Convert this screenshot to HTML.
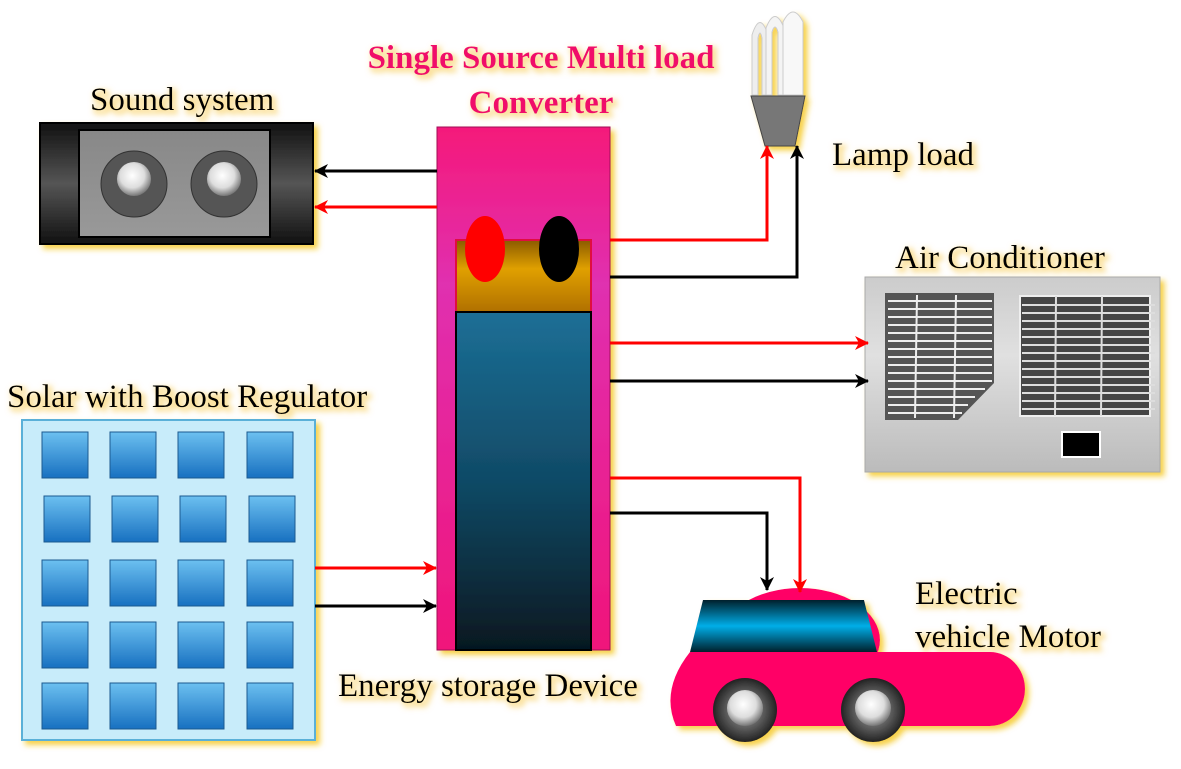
<!DOCTYPE html>
<html><head><meta charset="utf-8"><style>
html,body{margin:0;padding:0;background:#fff}
svg{display:block}
text{font-family:"Liberation Serif",serif;}
</style></head><body>
<svg width="1181" height="769" viewBox="0 0 1181 769" xmlns="http://www.w3.org/2000/svg">
<defs>
<filter id="g" x="-20%" y="-20%" width="140%" height="140%">
<feGaussianBlur in="SourceAlpha" stdDeviation="3" result="b"/><feOffset in="b" dx="4" dy="4" result="o"/>
<feFlood flood-color="#f5c518" flood-opacity="0.8" result="f"/><feComposite in="f" in2="o" operator="in" result="s"/>
<feMerge><feMergeNode in="s"/><feMergeNode in="SourceGraphic"/></feMerge></filter>
<filter id="tg" x="-10%" y="-40%" width="120%" height="180%">
<feMorphology in="SourceAlpha" operator="dilate" radius="1.5" result="d"/><feGaussianBlur in="d" stdDeviation="3" result="b"/><feOffset in="b" dx="3" dy="3" result="o"/>
<feFlood flood-color="#f7c84a" flood-opacity="0.55" result="f"/><feComposite in="f" in2="o" operator="in" result="s"/>
<feMerge><feMergeNode in="s"/><feMergeNode in="SourceGraphic"/></feMerge></filter>
<linearGradient id="pink" x1="0" y1="0" x2="0" y2="1"><stop offset="0" stop-color="#f5197a"/><stop offset="0.3" stop-color="#e030b0"/><stop offset="1" stop-color="#f0157a"/></linearGradient>
<linearGradient id="gold" x1="0" y1="0" x2="0" y2="1"><stop offset="0" stop-color="#8a5a00"/><stop offset="0.4" stop-color="#e0a000"/><stop offset="1" stop-color="#b07000"/></linearGradient>
<linearGradient id="bat" x1="0" y1="0" x2="0" y2="1"><stop offset="0" stop-color="#1c6f96"/><stop offset="0.5" stop-color="#104a66"/><stop offset="1" stop-color="#061820"/></linearGradient>
<linearGradient id="cell" x1="0" y1="0" x2="0" y2="1"><stop offset="0" stop-color="#6cc0f0"/><stop offset="1" stop-color="#1870c0"/></linearGradient>
<linearGradient id="win" x1="0" y1="0" x2="0" y2="1"><stop offset="0" stop-color="#04202c"/><stop offset="0.5" stop-color="#00aee8"/><stop offset="1" stop-color="#04202c"/></linearGradient>
<linearGradient id="ss" x1="0" y1="0" x2="0" y2="1"><stop offset="0" stop-color="#111"/><stop offset="0.5" stop-color="#555"/><stop offset="1" stop-color="#111"/></linearGradient>
<linearGradient id="sp" x1="0" y1="0" x2="0" y2="1"><stop offset="0" stop-color="#888"/><stop offset="1" stop-color="#999"/></linearGradient>
<radialGradient id="ball" cx="0.45" cy="0.4" r="0.6"><stop offset="0" stop-color="#fff"/><stop offset="0.6" stop-color="#ddd"/><stop offset="1" stop-color="#777"/></radialGradient>
<radialGradient id="tire" cx="0.5" cy="0.5" r="0.5"><stop offset="0.5" stop-color="#666"/><stop offset="1" stop-color="#222"/></radialGradient>
<linearGradient id="ac" x1="0" y1="0" x2="0" y2="1"><stop offset="0" stop-color="#ccc"/><stop offset="0.4" stop-color="#e0e0e0"/><stop offset="1" stop-color="#bbb"/></linearGradient>
<marker id="ar" markerWidth="14" markerHeight="14" refX="13" refY="7" orient="auto" markerUnits="userSpaceOnUse"><path d="M0,0 L14,7 L0,14 L4,7Z" fill="red"/></marker>
<marker id="ab" markerWidth="14" markerHeight="14" refX="13" refY="7" orient="auto" markerUnits="userSpaceOnUse"><path d="M0,0 L14,7 L0,14 L4,7Z" fill="#000"/></marker>
</defs>

<g filter="url(#tg)" font-weight="bold" fill="#f0106a" font-size="33" text-anchor="middle">
<text x="541" y="68">Single Source Multi load</text>
<text x="541" y="113">Converter</text>
</g>
<g filter="url(#tg)" font-size="33" fill="#000">
<text x="90" y="110">Sound system</text>
<text x="832" y="165">Lamp load</text>
<text x="895" y="268">Air Conditioner</text>
<text x="7" y="407">Solar with Boost Regulator</text>
<text x="338" y="696">Energy storage Device</text>
<text x="915" y="604">Electric</text>
<text x="915" y="647">vehicle Motor</text>
</g>

<g filter="url(#g)">
<rect x="40" y="123" width="273" height="121" fill="url(#ss)" stroke="#000" stroke-width="2"/>
<rect x="79" y="130" width="191" height="107" fill="url(#sp)" stroke="#000" stroke-width="2"/>
<ellipse cx="134" cy="184" rx="33" ry="33" fill="#555" stroke="#333"/>
<circle cx="134" cy="179" r="17" fill="url(#ball)"/>
<ellipse cx="224" cy="184" rx="33" ry="33" fill="#555" stroke="#333"/>
<circle cx="224" cy="179" r="17" fill="url(#ball)"/>
</g>

<g filter="url(#g)">
<rect x="437" y="127" width="173" height="523" fill="url(#pink)" stroke="#a0105a" stroke-width="1"/>
<rect x="456" y="240" width="135" height="72" fill="url(#gold)" stroke="#e01040" stroke-width="2"/>
<ellipse cx="485" cy="249" rx="20" ry="33" fill="red"/>
<ellipse cx="559" cy="249" rx="20" ry="33" fill="#000"/>
<rect x="456" y="312" width="135" height="338" fill="url(#bat)" stroke="#000" stroke-width="2"/>
</g>

<g filter="url(#g)">
<path d="M752,95 V35 Q760,10 768,35 V95 H762 V38 Q760,28 758,38 V95Z" fill="#eee" stroke="#ccc"/>
<path d="M766,95 V28 Q775,5 784,28 V95 H778 V32 Q775,22 772,32 V95Z" fill="#f4f4f4" stroke="#ccc"/>
<path d="M783,95 V22 Q793,2 803,22 V95Z" fill="#f8f8f8" stroke="#ccc"/>
<path d="M751,96 H805 L795,146 H765Z" fill="#777" stroke="#444"/>
</g>

<g filter="url(#g)">
<rect x="865" y="277" width="295" height="195" fill="url(#ac)" stroke="#aaa"/>
<path d="M885,293 H994 V383 L958,420 H885Z" fill="#555"/>
<g stroke="#eee" stroke-width="2">
<line x1="888" y1="301" x2="992" y2="301"/><line x1="888" y1="309" x2="992" y2="309"/><line x1="888" y1="317" x2="992" y2="317"/><line x1="888" y1="325" x2="992" y2="325"/><line x1="888" y1="333" x2="992" y2="333"/><line x1="888" y1="341" x2="992" y2="341"/><line x1="888" y1="349" x2="992" y2="349"/><line x1="888" y1="357" x2="992" y2="357"/><line x1="888" y1="365" x2="992" y2="365"/><line x1="888" y1="373" x2="992" y2="373"/><line x1="888" y1="381" x2="992" y2="381"/><line x1="888" y1="389" x2="985" y2="389"/><line x1="888" y1="397" x2="975" y2="397"/><line x1="888" y1="405" x2="968" y2="405"/><line x1="888" y1="413" x2="962" y2="413"/>
<line x1="917" y1="295" x2="915" y2="418"/><line x1="956" y1="295" x2="954" y2="418"/>
</g>
<rect x="1020" y="296" width="130" height="120" fill="#444" stroke="#eee" stroke-width="2"/>
<g stroke="#ddd" stroke-width="2">
<line x1="1022" y1="305" x2="1155" y2="305"/><line x1="1022" y1="313" x2="1155" y2="313"/><line x1="1022" y1="321" x2="1155" y2="321"/><line x1="1022" y1="329" x2="1155" y2="329"/><line x1="1022" y1="337" x2="1155" y2="337"/><line x1="1022" y1="345" x2="1155" y2="345"/><line x1="1022" y1="353" x2="1155" y2="353"/><line x1="1022" y1="361" x2="1155" y2="361"/><line x1="1022" y1="369" x2="1155" y2="369"/><line x1="1022" y1="377" x2="1155" y2="377"/><line x1="1022" y1="385" x2="1155" y2="385"/><line x1="1022" y1="393" x2="1155" y2="393"/><line x1="1022" y1="401" x2="1155" y2="401"/><line x1="1022" y1="409" x2="1155" y2="409"/>
<line x1="1056" y1="296" x2="1055" y2="416"/><line x1="1102" y1="296" x2="1101" y2="416"/>
</g>
<rect x="1062" y="432" width="38" height="25" fill="#000" stroke="#fff" stroke-width="2"/>
</g>

<g filter="url(#g)">
<rect x="22" y="420" width="293" height="320" fill="#c8ecfa" stroke="#5ab0d8" stroke-width="2"/>
<g fill="url(#cell)" stroke="#1a5a90">
<rect x="42" y="432" width="46" height="46"/><rect x="110" y="432" width="46" height="46"/><rect x="178" y="432" width="46" height="46"/><rect x="247" y="432" width="46" height="46"/>
<rect x="44" y="496" width="46" height="46"/><rect x="112" y="496" width="46" height="46"/><rect x="180" y="496" width="46" height="46"/><rect x="249" y="496" width="46" height="46"/>
<rect x="42" y="560" width="46" height="46"/><rect x="110" y="560" width="46" height="46"/><rect x="178" y="560" width="46" height="46"/><rect x="247" y="560" width="46" height="46"/>
<rect x="42" y="622" width="46" height="46"/><rect x="110" y="622" width="46" height="46"/><rect x="178" y="622" width="46" height="46"/><rect x="247" y="622" width="46" height="46"/>
<rect x="42" y="683" width="46" height="46"/><rect x="110" y="683" width="46" height="46"/><rect x="178" y="683" width="46" height="46"/><rect x="247" y="683" width="46" height="46"/>
</g>
</g>

<g filter="url(#g)">
<ellipse cx="800" cy="640" rx="80" ry="52" fill="#ff0066"/>
<path d="M703,600 H864 L877,652 H690Z" fill="url(#win)"/>
<path d="M690,652 H990 A35,37 0 0 1 990,726 H676 Q660,690 690,652Z" fill="#ff0066"/>
<circle cx="745" cy="710" r="32" fill="url(#tire)"/>
<circle cx="745" cy="708" r="18" fill="url(#ball)"/>
<circle cx="873" cy="710" r="32" fill="url(#tire)"/>
<circle cx="873" cy="708" r="18" fill="url(#ball)"/>
</g>

<g fill="none" stroke-width="3">
<line x1="437" y1="171" x2="315" y2="171" stroke="#000" marker-end="url(#ab)"/>
<line x1="437" y1="207" x2="315" y2="207" stroke="red" marker-end="url(#ar)"/>
<polyline points="610,240 767,240 767,146" stroke="red" marker-end="url(#ar)"/>
<polyline points="610,277 797,277 797,146" stroke="#000" marker-end="url(#ab)"/>
<line x1="610" y1="343" x2="868" y2="343" stroke="red" marker-end="url(#ar)"/>
<line x1="610" y1="381" x2="868" y2="381" stroke="#000" marker-end="url(#ab)"/>
<line x1="315" y1="568" x2="436" y2="568" stroke="red" marker-end="url(#ar)"/>
<line x1="315" y1="606" x2="436" y2="606" stroke="#000" marker-end="url(#ab)"/>
<polyline points="610,478 800,478 800,592" stroke="red" marker-end="url(#ar)"/>
<polyline points="610,513 767,513 767,590" stroke="#000" marker-end="url(#ab)"/>
</g>
</svg>
</body></html>
